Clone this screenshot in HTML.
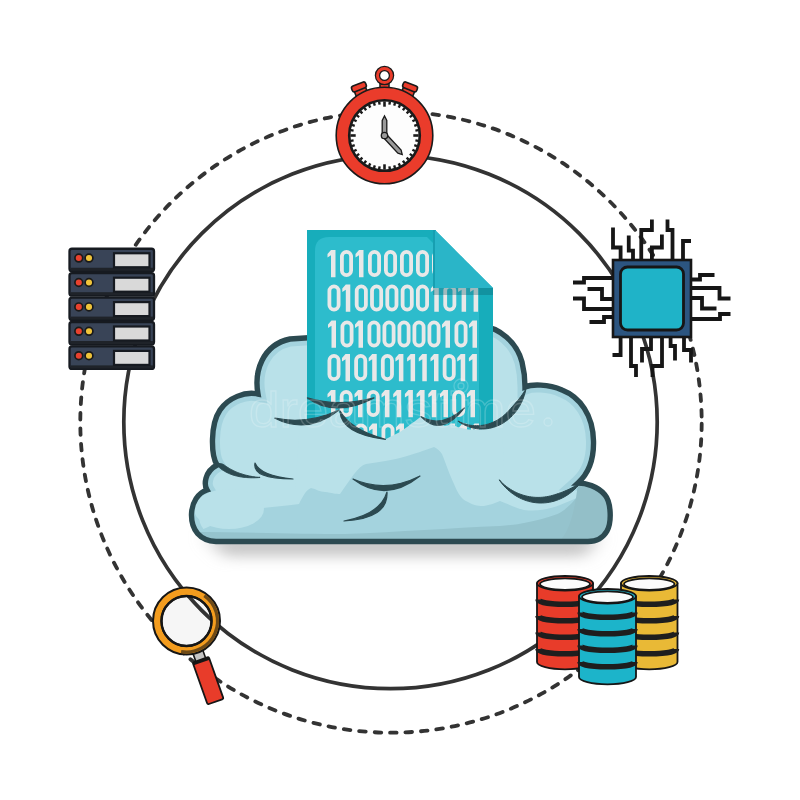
<!DOCTYPE html>
<html><head><meta charset="utf-8">
<style>
html,body{margin:0;padding:0;background:#fff;width:800px;height:800px;overflow:hidden}
svg{display:block}
text{font-family:"Liberation Sans",sans-serif;font-weight:bold}
</style></head><body>
<svg width="800" height="800" viewBox="0 0 800 800">
<defs>
  <filter id="blur6" x="-50%" y="-50%" width="200%" height="200%"><feGaussianBlur stdDeviation="6"/></filter>
  <clipPath id="docclip"><path d="M307 230 L435 230 L493 288 L493 470 L307 470 Z"/></clipPath>
</defs>
<rect width="800" height="800" fill="#fff"/>
<circle cx="390.5" cy="422" r="266.7" fill="none" stroke="#333" stroke-width="3.7"/>
<circle cx="391" cy="422" r="310.7" fill="none" stroke="#333" stroke-width="3.8" stroke-linecap="round" stroke-dasharray="6.6 8.9" stroke-dashoffset="-1.7"/>
<filter id="shb" x="-20%" y="-100%" width="140%" height="300%"><feGaussianBlur stdDeviation="9 7"/></filter>
<path d="M205 536 L600 536 L585 556 L225 556 Z" fill="#c4c4c4" filter="url(#shb)"/>
<clipPath id="silclip"><path d="M216 541.5 C200 541 191 530 191.5 514 C192 502 198 493 207 490 C204 485 204 472 217 465 C211 455 210 425 220 410 C228 398 245 391 258 394 C254 372 262 345 290 339 L320 337 L480 326 C500 327 517 343 522 362 C524 370 525 378 525 387 C532 384 548 384 562 390 C580 397 593 415 593.5 441 C594 460 588 474 578 483 C585 483 598 486 605 495 C611 502 612 522 607 531 C603 538 597 541.5 588 541.5 Z"/></clipPath>
<path d="M216 541.5 C200 541 191 530 191.5 514 C192 502 198 493 207 490 C204 485 204 472 217 465 C211 455 210 425 220 410 C228 398 245 391 258 394 C254 372 262 345 290 339 L320 337 L480 326 C500 327 517 343 522 362 C524 370 525 378 525 387 C532 384 548 384 562 390 C580 397 593 415 593.5 441 C594 460 588 474 578 483 C585 483 598 486 605 495 C611 502 612 522 607 531 C603 538 597 541.5 588 541.5 Z" fill="#b9e1e9"/>
<path d="M216 541.5 C200 541 191 530 191.5 514 C192 502 198 493 207 490 C204 485 204 472 217 465 C211 455 210 425 220 410 C228 398 245 391 258 394 C254 372 262 345 290 339 L320 337 L480 326 C500 327 517 343 522 362 C524 370 525 378 525 387 C532 384 548 384 562 390 C580 397 593 415 593.5 441 C594 460 588 474 578 483 C585 483 598 486 605 495 C611 502 612 522 607 531 C603 538 597 541.5 588 541.5 Z" fill="none" stroke="#a4d3de" stroke-width="15" clip-path="url(#silclip)"/>
<path d="M307 230 L435 230 L493 288 L493 470 L307 470 Z" fill="#17adbb"/>
<path d="M329 237 L427 237 L479 289 L479 470 L315 470 L315 251 Q315 237 329 237 Z" fill="#2dbccc"/>
<g clip-path="url(#docclip)">
<path d="M346.50 251.90 a4.6 4.6 0 0 1 4.6 4.6 v14 a4.6 4.6 0 0 1 -9.2 0 v-14 a4.6 4.6 0 0 1 4.6 -4.6 Z M374.50 251.90 a4.6 4.6 0 0 1 4.6 4.6 v14 a4.6 4.6 0 0 1 -9.2 0 v-14 a4.6 4.6 0 0 1 4.6 -4.6 Z M390.50 251.90 a4.6 4.6 0 0 1 4.6 4.6 v14 a4.6 4.6 0 0 1 -9.2 0 v-14 a4.6 4.6 0 0 1 4.6 -4.6 Z M406.50 251.90 a4.6 4.6 0 0 1 4.6 4.6 v14 a4.6 4.6 0 0 1 -9.2 0 v-14 a4.6 4.6 0 0 1 4.6 -4.6 Z M422.50 251.90 a4.6 4.6 0 0 1 4.6 4.6 v14 a4.6 4.6 0 0 1 -9.2 0 v-14 a4.6 4.6 0 0 1 4.6 -4.6 Z M438.50 251.90 a4.6 4.6 0 0 1 4.6 4.6 v14 a4.6 4.6 0 0 1 -9.2 0 v-14 a4.6 4.6 0 0 1 4.6 -4.6 Z M454.50 251.90 a4.6 4.6 0 0 1 4.6 4.6 v14 a4.6 4.6 0 0 1 -9.2 0 v-14 a4.6 4.6 0 0 1 4.6 -4.6 Z M470.50 251.90 a4.6 4.6 0 0 1 4.6 4.6 v14 a4.6 4.6 0 0 1 -9.2 0 v-14 a4.6 4.6 0 0 1 4.6 -4.6 Z M498.50 251.90 a4.6 4.6 0 0 1 4.6 4.6 v14 a4.6 4.6 0 0 1 -9.2 0 v-14 a4.6 4.6 0 0 1 4.6 -4.6 Z" fill="none" stroke="#e8e8e8" stroke-width="3.8"/>
<path d="M331.00 250.00 h4.5 v27.3 h-4.5 v-22 l-3.5 2.2 v-3.6 Z M359.00 250.00 h4.5 v27.3 h-4.5 v-22 l-3.5 2.2 v-3.6 Z M483.00 250.00 h4.5 v27.3 h-4.5 v-22 l-3.5 2.2 v-3.6 Z M511.00 250.00 h4.5 v27.3 h-4.5 v-22 l-3.5 2.2 v-3.6 Z" fill="#e8e8e8"/>
<path d="M334.00 286.40 a4.6 4.6 0 0 1 4.6 4.6 v14 a4.6 4.6 0 0 1 -9.2 0 v-14 a4.6 4.6 0 0 1 4.6 -4.6 Z M361.30 286.40 a4.6 4.6 0 0 1 4.6 4.6 v14 a4.6 4.6 0 0 1 -9.2 0 v-14 a4.6 4.6 0 0 1 4.6 -4.6 Z M376.60 286.40 a4.6 4.6 0 0 1 4.6 4.6 v14 a4.6 4.6 0 0 1 -9.2 0 v-14 a4.6 4.6 0 0 1 4.6 -4.6 Z M391.90 286.40 a4.6 4.6 0 0 1 4.6 4.6 v14 a4.6 4.6 0 0 1 -9.2 0 v-14 a4.6 4.6 0 0 1 4.6 -4.6 Z M407.20 286.40 a4.6 4.6 0 0 1 4.6 4.6 v14 a4.6 4.6 0 0 1 -9.2 0 v-14 a4.6 4.6 0 0 1 4.6 -4.6 Z M422.50 286.40 a4.6 4.6 0 0 1 4.6 4.6 v14 a4.6 4.6 0 0 1 -9.2 0 v-14 a4.6 4.6 0 0 1 4.6 -4.6 Z M449.80 286.40 a4.6 4.6 0 0 1 4.6 4.6 v14 a4.6 4.6 0 0 1 -9.2 0 v-14 a4.6 4.6 0 0 1 4.6 -4.6 Z" fill="none" stroke="#e8e8e8" stroke-width="3.8"/>
<path d="M345.80 284.50 h4.5 v27.3 h-4.5 v-22 l-3.5 2.2 v-3.6 Z M434.30 284.50 h4.5 v27.3 h-4.5 v-22 l-3.5 2.2 v-3.6 Z M461.60 284.50 h4.5 v27.3 h-4.5 v-22 l-3.5 2.2 v-3.6 Z M473.60 284.50 h4.5 v27.3 h-4.5 v-22 l-3.5 2.2 v-3.6 Z" fill="#e8e8e8"/>
<path d="M347.00 322.40 a4.6 4.6 0 0 1 4.6 4.6 v14 a4.6 4.6 0 0 1 -9.2 0 v-14 a4.6 4.6 0 0 1 4.6 -4.6 Z M374.00 322.40 a4.6 4.6 0 0 1 4.6 4.6 v14 a4.6 4.6 0 0 1 -9.2 0 v-14 a4.6 4.6 0 0 1 4.6 -4.6 Z M389.00 322.40 a4.6 4.6 0 0 1 4.6 4.6 v14 a4.6 4.6 0 0 1 -9.2 0 v-14 a4.6 4.6 0 0 1 4.6 -4.6 Z M404.00 322.40 a4.6 4.6 0 0 1 4.6 4.6 v14 a4.6 4.6 0 0 1 -9.2 0 v-14 a4.6 4.6 0 0 1 4.6 -4.6 Z M419.00 322.40 a4.6 4.6 0 0 1 4.6 4.6 v14 a4.6 4.6 0 0 1 -9.2 0 v-14 a4.6 4.6 0 0 1 4.6 -4.6 Z M434.00 322.40 a4.6 4.6 0 0 1 4.6 4.6 v14 a4.6 4.6 0 0 1 -9.2 0 v-14 a4.6 4.6 0 0 1 4.6 -4.6 Z M461.00 322.40 a4.6 4.6 0 0 1 4.6 4.6 v14 a4.6 4.6 0 0 1 -9.2 0 v-14 a4.6 4.6 0 0 1 4.6 -4.6 Z" fill="none" stroke="#e8e8e8" stroke-width="3.8"/>
<path d="M331.50 320.50 h4.5 v27.3 h-4.5 v-22 l-3.5 2.2 v-3.6 Z M358.50 320.50 h4.5 v27.3 h-4.5 v-22 l-3.5 2.2 v-3.6 Z M445.50 320.50 h4.5 v27.3 h-4.5 v-22 l-3.5 2.2 v-3.6 Z M472.50 320.50 h4.5 v27.3 h-4.5 v-22 l-3.5 2.2 v-3.6 Z" fill="#e8e8e8"/>
<path d="M334.00 355.90 a4.6 4.6 0 0 1 4.6 4.6 v14 a4.6 4.6 0 0 1 -9.2 0 v-14 a4.6 4.6 0 0 1 4.6 -4.6 Z M360.70 355.90 a4.6 4.6 0 0 1 4.6 4.6 v14 a4.6 4.6 0 0 1 -9.2 0 v-14 a4.6 4.6 0 0 1 4.6 -4.6 Z M387.40 355.90 a4.6 4.6 0 0 1 4.6 4.6 v14 a4.6 4.6 0 0 1 -9.2 0 v-14 a4.6 4.6 0 0 1 4.6 -4.6 Z M449.20 355.90 a4.6 4.6 0 0 1 4.6 4.6 v14 a4.6 4.6 0 0 1 -9.2 0 v-14 a4.6 4.6 0 0 1 4.6 -4.6 Z" fill="none" stroke="#e8e8e8" stroke-width="3.8"/>
<path d="M345.50 354.00 h4.5 v27.3 h-4.5 v-22 l-3.5 2.2 v-3.6 Z M372.20 354.00 h4.5 v27.3 h-4.5 v-22 l-3.5 2.2 v-3.6 Z M398.90 354.00 h4.5 v27.3 h-4.5 v-22 l-3.5 2.2 v-3.6 Z M410.60 354.00 h4.5 v27.3 h-4.5 v-22 l-3.5 2.2 v-3.6 Z M422.30 354.00 h4.5 v27.3 h-4.5 v-22 l-3.5 2.2 v-3.6 Z M434.00 354.00 h4.5 v27.3 h-4.5 v-22 l-3.5 2.2 v-3.6 Z M460.70 354.00 h4.5 v27.3 h-4.5 v-22 l-3.5 2.2 v-3.6 Z M472.40 354.00 h4.5 v27.3 h-4.5 v-22 l-3.5 2.2 v-3.6 Z" fill="#e8e8e8"/>
<path d="M346.20 391.90 a4.6 4.6 0 0 1 4.6 4.6 v14 a4.6 4.6 0 0 1 -9.2 0 v-14 a4.6 4.6 0 0 1 4.6 -4.6 Z M373.20 391.90 a4.6 4.6 0 0 1 4.6 4.6 v14 a4.6 4.6 0 0 1 -9.2 0 v-14 a4.6 4.6 0 0 1 4.6 -4.6 Z M458.70 391.90 a4.6 4.6 0 0 1 4.6 4.6 v14 a4.6 4.6 0 0 1 -9.2 0 v-14 a4.6 4.6 0 0 1 4.6 -4.6 Z" fill="none" stroke="#e8e8e8" stroke-width="3.8"/>
<path d="M331.00 390.00 h4.5 v27.3 h-4.5 v-22 l-3.5 2.2 v-3.6 Z M358.00 390.00 h4.5 v27.3 h-4.5 v-22 l-3.5 2.2 v-3.6 Z M385.00 390.00 h4.5 v27.3 h-4.5 v-22 l-3.5 2.2 v-3.6 Z M396.70 390.00 h4.5 v27.3 h-4.5 v-22 l-3.5 2.2 v-3.6 Z M408.40 390.00 h4.5 v27.3 h-4.5 v-22 l-3.5 2.2 v-3.6 Z M420.10 390.00 h4.5 v27.3 h-4.5 v-22 l-3.5 2.2 v-3.6 Z M431.80 390.00 h4.5 v27.3 h-4.5 v-22 l-3.5 2.2 v-3.6 Z M443.50 390.00 h4.5 v27.3 h-4.5 v-22 l-3.5 2.2 v-3.6 Z M470.50 390.00 h4.5 v27.3 h-4.5 v-22 l-3.5 2.2 v-3.6 Z" fill="#e8e8e8"/>
<path d="M334.00 425.40 a4.6 4.6 0 0 1 4.6 4.6 v14 a4.6 4.6 0 0 1 -9.2 0 v-14 a4.6 4.6 0 0 1 4.6 -4.6 Z M361.00 425.40 a4.6 4.6 0 0 1 4.6 4.6 v14 a4.6 4.6 0 0 1 -9.2 0 v-14 a4.6 4.6 0 0 1 4.6 -4.6 Z M388.00 425.40 a4.6 4.6 0 0 1 4.6 4.6 v14 a4.6 4.6 0 0 1 -9.2 0 v-14 a4.6 4.6 0 0 1 4.6 -4.6 Z M439.00 425.40 a4.6 4.6 0 0 1 4.6 4.6 v14 a4.6 4.6 0 0 1 -9.2 0 v-14 a4.6 4.6 0 0 1 4.6 -4.6 Z" fill="none" stroke="#e8e8e8" stroke-width="3.8"/>
<path d="M345.50 423.50 h4.5 v27.3 h-4.5 v-22 l-3.5 2.2 v-3.6 Z M372.50 423.50 h4.5 v27.3 h-4.5 v-22 l-3.5 2.2 v-3.6 Z M399.50 423.50 h4.5 v27.3 h-4.5 v-22 l-3.5 2.2 v-3.6 Z M411.50 423.50 h4.5 v27.3 h-4.5 v-22 l-3.5 2.2 v-3.6 Z M423.50 423.50 h4.5 v27.3 h-4.5 v-22 l-3.5 2.2 v-3.6 Z M450.50 423.50 h4.5 v27.3 h-4.5 v-22 l-3.5 2.2 v-3.6 Z M462.50 423.50 h4.5 v27.3 h-4.5 v-22 l-3.5 2.2 v-3.6 Z M474.50 423.50 h4.5 v27.3 h-4.5 v-22 l-3.5 2.2 v-3.6 Z" fill="#e8e8e8"/>
</g>
<path d="M433 230 L436 230 L436 288 L433 288 Z" fill="#179fb1"/>
<path d="M433 288 L493 288 L493 295 L433 295 Z" fill="#0a5a66" fill-opacity="0.32"/>
<path d="M435 230 L493 288 L435 288 Z" fill="#2ab5c8"/>
<path d="M300 422 Q316 422 338 410 Q350 436 385.4 439.3 Q392 436 400 432 Q412 424 421 416.6 Q441 430 451 424 Q474 436 502 423 L505 490 L295 490 Z" fill="#b9e1e9"/>
<g clip-path="url(#silclip)">
<path d="M180 560 L180 540 C200 530 240 512 263 508 C275 507 290 505 299 504 C303 496 306 490 311 488 C316 489 320 492 325 492 C332 493 336 494 340 494 C350 480 358 466 366 464 C380 462 392 460 400 458 C415 454 425 450 434 447 C438 449 440 451 442 454 C446 464 450 476 454 484 C458 494 462 500 468 502 C474 506 480 506 484 506 C490 505 495 503 500 501 C508 504 516 508 524 510 C540 512 552 508 560 505 L620 480 L620 560 Z" fill="#a4d3de"/>
<ellipse cx="229" cy="509" rx="35" ry="20" fill="#b9e1e9"/>
<path d="M180 532 C250 532 300 534 345 534 C400 532 450 528 500 526 C512 525 520 524 524 523 C535 521 547 518 557.5 514 C566 510 572 503 578 496 L620 480 L620 560 L180 560 Z" fill="#95c3cd"/>
<path d="M578 483 C585 483 598 486 605 495 C611 502 612 522 607 531 C603 537 597 540.5 588 540.5 L560 541 C570 530 575 510 578 483 Z" fill="#93bfc8"/>
</g>
<clipPath id="nodoc"><path clip-rule="evenodd" d="M0 0 H800 V800 H0 Z M307 200 V440 H493 V200 Z"/></clipPath>
<path d="M480 326 C500 327 517 343 522 362 C524 370 525 378 525 387 C532 384 548 384 562 390 C580 397 593 415 593.5 441 C594 460 588 474 578 483 C585 483 598 486 605 495 C611 502 612 522 607 531 C603 538 597 541.5 588 541.5 L216 541.5 C200 541 191 530 191.5 514 C192 502 198 493 207 490 C204 485 204 472 217 465 C211 455 210 425 220 410 C228 398 245 391 258 394 C254 372 262 345 290 339 L320 337" fill="none" stroke="#2c4a51" stroke-width="5.4" stroke-linejoin="miter" stroke-miterlimit="10" clip-path="url(#nodoc)"/>
<g fill="#2c4a51" stroke="#2c4a51" stroke-linejoin="round">
<path d="M215.00 463.00 L215.69 463.83 L216.40 464.63 L217.13 465.41 L217.88 466.16 L218.66 466.89 L219.45 467.60 L220.28 468.28 L221.12 468.94 L221.99 469.58 L222.88 470.19 L223.79 470.78 L224.72 471.34 L225.68 471.88 L226.66 472.40 L227.66 472.89 L228.68 473.36 L229.73 473.81 L230.80 474.23 L231.89 474.63 L233.00 475.00 L234.14 475.35 L235.29 475.68 L236.48 475.98 L237.68 476.26 L238.91 476.52 L240.15 476.75 L241.43 476.96 L242.72 477.14 L244.04 477.30 L245.38 477.44 L246.74 477.55 L248.12 477.64 L249.53 477.71 L250.95 477.75 L252.41 477.77 L253.88 477.76 L255.38 477.73 L256.90 477.68 L258.44 477.60 L260.00 477.50 L259.98 477.20 L258.42 477.30 L256.87 477.19 L255.36 477.00 L253.87 476.78 L252.41 476.55 L250.99 476.30 L249.59 476.02 L248.23 475.73 L246.89 475.42 L245.59 475.09 L244.32 474.75 L243.08 474.39 L241.88 474.01 L240.70 473.62 L239.56 473.22 L238.44 472.81 L237.36 472.38 L236.30 471.95 L235.27 471.50 L234.28 471.04 L233.30 470.58 L232.36 470.10 L231.44 469.62 L230.55 469.13 L229.68 468.64 L228.83 468.14 L228.00 467.62 L227.20 467.11 L226.41 466.58 L225.64 466.05 L224.88 465.51 L224.14 464.95 L223.35 464.46 L222.46 464.09 L221.46 463.82 L220.34 463.62 L219.12 463.47 L217.81 463.34 L216.43 463.19 L215.23 462.81 Z" stroke-width="1.0"/>
<path d="M255 463 Q252.00 479.00 293 479 Q260.46 475.92 255 463 Z" stroke-width="1.2"/>
<path d="M307.4 397.9 Q335.30 418.10 374 397.9 Q338.14 407.47 307.4 397.9 Z" stroke-width="1.2"/>
<path d="M274.9 418.2 Q307.85 434.90 339 410 Q307.42 424.91 274.9 418.2 Z" stroke-width="1.2"/>
<path d="M339.9 410.9 Q341.35 433.90 385.4 439.3 Q350.59 430.08 339.9 410.9 Z" stroke-width="1.2"/>
<path d="M421 416.6 Q441.30 437.70 464.4 408 Q441.80 428.71 421 416.6 Z" stroke-width="1.2"/>
<path d="M526.02 388.60 L525.52 390.98 L524.92 393.34 L524.22 395.65 L523.42 397.93 L522.53 400.16 L521.55 402.34 L520.47 404.46 L519.31 406.52 L518.06 408.51 L516.72 410.44 L515.31 412.29 L513.82 414.06 L512.26 415.75 L510.62 417.35 L508.92 418.86 L507.16 420.28 L505.34 421.60 L503.47 422.82 L501.55 423.94 L499.58 424.95 L497.58 425.85 L495.53 426.64 L493.46 427.32 L491.36 427.89 L489.23 428.34 L487.09 428.67 L484.94 428.89 L482.79 428.99 L480.63 428.98 L478.47 428.84 L476.32 428.59 L474.19 428.23 L472.07 427.74 L469.97 427.15 L467.91 426.43 L465.87 425.61 L463.88 424.68 L461.92 423.64 L460.01 422.50 L458.15 421.25 L458.31 421.00 L460.18 422.20 L462.22 423.04 L464.28 423.76 L466.35 424.37 L468.43 424.86 L470.50 425.24 L472.58 425.50 L474.64 425.66 L476.69 425.71 L478.72 425.66 L480.73 425.51 L482.72 425.25 L484.68 424.90 L486.61 424.46 L488.51 423.92 L490.38 423.30 L492.21 422.59 L494.00 421.79 L495.76 420.92 L497.47 419.97 L499.14 418.94 L500.77 417.84 L502.35 416.67 L503.89 415.43 L505.39 414.12 L506.83 412.75 L508.23 411.32 L509.58 409.82 L510.91 408.29 L512.25 406.75 L513.61 405.20 L515.00 403.61 L516.40 401.99 L517.82 400.31 L519.24 398.57 L520.66 396.76 L522.06 394.86 L523.44 392.87 L524.76 390.79 L525.72 388.54 Z" stroke-width="1.0"/>
<path d="M581.60 481.57 L580.04 483.57 L578.41 485.50 L576.70 487.34 L574.93 489.10 L573.08 490.76 L571.17 492.33 L569.20 493.80 L567.18 495.17 L565.10 496.44 L562.98 497.60 L560.81 498.65 L558.60 499.59 L556.36 500.42 L554.09 501.14 L551.79 501.74 L549.47 502.23 L547.14 502.60 L544.79 502.85 L542.43 502.98 L540.08 502.99 L537.72 502.88 L535.37 502.66 L533.03 502.32 L530.71 501.86 L528.40 501.28 L526.12 500.59 L523.88 499.78 L521.66 498.86 L519.49 497.83 L517.35 496.70 L515.26 495.45 L513.23 494.10 L511.25 492.65 L509.33 491.11 L507.47 489.46 L505.67 487.73 L503.95 485.90 L502.30 484.00 L500.73 482.01 L499.24 479.94 L499.47 479.75 L501.00 481.77 L502.83 483.50 L504.71 485.13 L506.63 486.66 L508.60 488.08 L510.60 489.40 L512.63 490.62 L514.69 491.73 L516.77 492.74 L518.87 493.65 L520.99 494.45 L523.11 495.16 L525.25 495.77 L527.39 496.28 L529.53 496.69 L531.66 497.01 L533.80 497.24 L535.93 497.38 L538.06 497.42 L540.17 497.38 L542.28 497.25 L544.37 497.04 L546.45 496.73 L548.52 496.35 L550.57 495.88 L552.61 495.33 L554.63 494.72 L556.66 494.08 L558.69 493.40 L560.74 492.68 L562.79 491.91 L564.86 491.09 L566.95 490.21 L569.04 489.25 L571.15 488.22 L573.26 487.10 L575.37 485.88 L577.47 484.55 L579.55 483.12 L581.37 481.37 Z" stroke-width="1.0"/>
<path d="M353 479 Q385.50 503.50 420 476 Q385.88 493.51 353 479 Z" stroke-width="1.2"/>
<path d="M387 492 Q388.50 518.50 344 521 Q380.52 514.34 387 492 Z" stroke-width="1.2"/>
</g>
<rect x="69.5" y="248.75" width="84.5" height="22.5" rx="2.5" fill="#394457" stroke="#161a20" stroke-width="2.3"/>
<rect x="70.5" y="267.75" width="82.5" height="3" fill="#1f2329"/>
<circle cx="78.8" cy="258.05" r="3.9" fill="#e8412e" stroke="#1a1a1a" stroke-width="1.7"/>
<circle cx="89" cy="258.05" r="3.9" fill="#f0c43a" stroke="#1a1a1a" stroke-width="1.7"/>
<rect x="114" y="253.25" width="35.5" height="14" fill="#d9d9d9" stroke="#161a20" stroke-width="2.2"/>
<rect x="69.5" y="273.20" width="84.5" height="22.5" rx="2.5" fill="#394457" stroke="#161a20" stroke-width="2.3"/>
<rect x="70.5" y="292.20" width="82.5" height="3" fill="#1f2329"/>
<circle cx="78.8" cy="282.50" r="3.9" fill="#e8412e" stroke="#1a1a1a" stroke-width="1.7"/>
<circle cx="89" cy="282.50" r="3.9" fill="#f0c43a" stroke="#1a1a1a" stroke-width="1.7"/>
<rect x="114" y="277.70" width="35.5" height="14" fill="#d9d9d9" stroke="#161a20" stroke-width="2.2"/>
<rect x="69.5" y="297.60" width="84.5" height="22.5" rx="2.5" fill="#394457" stroke="#161a20" stroke-width="2.3"/>
<rect x="70.5" y="316.60" width="82.5" height="3" fill="#1f2329"/>
<circle cx="78.8" cy="306.90" r="3.9" fill="#e8412e" stroke="#1a1a1a" stroke-width="1.7"/>
<circle cx="89" cy="306.90" r="3.9" fill="#f0c43a" stroke="#1a1a1a" stroke-width="1.7"/>
<rect x="114" y="302.10" width="35.5" height="14" fill="#d9d9d9" stroke="#161a20" stroke-width="2.2"/>
<rect x="69.5" y="322.00" width="84.5" height="22.5" rx="2.5" fill="#394457" stroke="#161a20" stroke-width="2.3"/>
<rect x="70.5" y="341.00" width="82.5" height="3" fill="#1f2329"/>
<circle cx="78.8" cy="331.30" r="3.9" fill="#e8412e" stroke="#1a1a1a" stroke-width="1.7"/>
<circle cx="89" cy="331.30" r="3.9" fill="#f0c43a" stroke="#1a1a1a" stroke-width="1.7"/>
<rect x="114" y="326.50" width="35.5" height="14" fill="#d9d9d9" stroke="#161a20" stroke-width="2.2"/>
<rect x="69.5" y="346.40" width="84.5" height="22.5" rx="2.5" fill="#394457" stroke="#161a20" stroke-width="2.3"/>
<rect x="70.5" y="365.40" width="82.5" height="3" fill="#1f2329"/>
<circle cx="78.8" cy="355.70" r="3.9" fill="#e8412e" stroke="#1a1a1a" stroke-width="1.7"/>
<circle cx="89" cy="355.70" r="3.9" fill="#f0c43a" stroke="#1a1a1a" stroke-width="1.7"/>
<rect x="114" y="350.90" width="35.5" height="14" fill="#d9d9d9" stroke="#161a20" stroke-width="2.2"/>
<g transform="translate(361 92) rotate(-22)"><rect x="-6" y="-3" width="12" height="9" fill="#ea3c2b" stroke="#1a1a1a" stroke-width="1.6"/><rect x="-7.5" y="-8.5" width="15" height="6" rx="2.2" fill="#ea3c2b" stroke="#1a1a1a" stroke-width="1.6"/></g>
<g transform="translate(408 92) rotate(22)"><rect x="-6" y="-3" width="12" height="9" fill="#ea3c2b" stroke="#1a1a1a" stroke-width="1.6"/><rect x="-7.5" y="-8.5" width="15" height="6" rx="2.2" fill="#ea3c2b" stroke="#1a1a1a" stroke-width="1.6"/></g>
<rect x="380" y="81" width="9" height="9" fill="#ea3c2b" stroke="#1a1a1a" stroke-width="1.5"/>
<circle cx="384.5" cy="75.5" r="7" fill="none" stroke="#1a1a1a" stroke-width="5.5"/>
<circle cx="384.5" cy="75.5" r="7" fill="none" stroke="#ea3c2b" stroke-width="3"/>
<circle cx="384.5" cy="135.5" r="48.3" fill="#ea3c2b" stroke="#1a1a1a" stroke-width="1.6"/>
<circle cx="384.5" cy="135.5" r="35.3" fill="#fdfdfd" stroke="#1a1a1a" stroke-width="2.6"/>
<line x1="384.50" y1="101.30" x2="384.50" y2="106.70" stroke="#1a1a1a" stroke-width="2.6"/>
<line x1="389.85" y1="101.72" x2="389.40" y2="104.59" stroke="#1a1a1a" stroke-width="2.4"/>
<line x1="395.07" y1="102.97" x2="394.17" y2="105.73" stroke="#1a1a1a" stroke-width="2.4"/>
<line x1="400.03" y1="105.03" x2="398.71" y2="107.61" stroke="#1a1a1a" stroke-width="2.4"/>
<line x1="404.60" y1="107.83" x2="402.90" y2="110.18" stroke="#1a1a1a" stroke-width="2.4"/>
<line x1="408.68" y1="111.32" x2="406.63" y2="113.37" stroke="#1a1a1a" stroke-width="2.4"/>
<line x1="412.17" y1="115.40" x2="409.82" y2="117.10" stroke="#1a1a1a" stroke-width="2.4"/>
<line x1="414.97" y1="119.97" x2="412.39" y2="121.29" stroke="#1a1a1a" stroke-width="2.4"/>
<line x1="417.03" y1="124.93" x2="414.27" y2="125.83" stroke="#1a1a1a" stroke-width="2.4"/>
<line x1="418.28" y1="130.15" x2="415.41" y2="130.60" stroke="#1a1a1a" stroke-width="2.4"/>
<line x1="418.70" y1="135.50" x2="413.30" y2="135.50" stroke="#1a1a1a" stroke-width="2.6"/>
<line x1="418.28" y1="140.85" x2="415.41" y2="140.40" stroke="#1a1a1a" stroke-width="2.4"/>
<line x1="417.03" y1="146.07" x2="414.27" y2="145.17" stroke="#1a1a1a" stroke-width="2.4"/>
<line x1="414.97" y1="151.03" x2="412.39" y2="149.71" stroke="#1a1a1a" stroke-width="2.4"/>
<line x1="412.17" y1="155.60" x2="409.82" y2="153.90" stroke="#1a1a1a" stroke-width="2.4"/>
<line x1="408.68" y1="159.68" x2="406.63" y2="157.63" stroke="#1a1a1a" stroke-width="2.4"/>
<line x1="404.60" y1="163.17" x2="402.90" y2="160.82" stroke="#1a1a1a" stroke-width="2.4"/>
<line x1="400.03" y1="165.97" x2="398.71" y2="163.39" stroke="#1a1a1a" stroke-width="2.4"/>
<line x1="395.07" y1="168.03" x2="394.17" y2="165.27" stroke="#1a1a1a" stroke-width="2.4"/>
<line x1="389.85" y1="169.28" x2="389.40" y2="166.41" stroke="#1a1a1a" stroke-width="2.4"/>
<line x1="384.50" y1="169.70" x2="384.50" y2="164.30" stroke="#1a1a1a" stroke-width="2.6"/>
<line x1="379.15" y1="169.28" x2="379.60" y2="166.41" stroke="#1a1a1a" stroke-width="2.4"/>
<line x1="373.93" y1="168.03" x2="374.83" y2="165.27" stroke="#1a1a1a" stroke-width="2.4"/>
<line x1="368.97" y1="165.97" x2="370.29" y2="163.39" stroke="#1a1a1a" stroke-width="2.4"/>
<line x1="364.40" y1="163.17" x2="366.10" y2="160.82" stroke="#1a1a1a" stroke-width="2.4"/>
<line x1="360.32" y1="159.68" x2="362.37" y2="157.63" stroke="#1a1a1a" stroke-width="2.4"/>
<line x1="356.83" y1="155.60" x2="359.18" y2="153.90" stroke="#1a1a1a" stroke-width="2.4"/>
<line x1="354.03" y1="151.03" x2="356.61" y2="149.71" stroke="#1a1a1a" stroke-width="2.4"/>
<line x1="351.97" y1="146.07" x2="354.73" y2="145.17" stroke="#1a1a1a" stroke-width="2.4"/>
<line x1="350.72" y1="140.85" x2="353.59" y2="140.40" stroke="#1a1a1a" stroke-width="2.4"/>
<line x1="350.30" y1="135.50" x2="355.70" y2="135.50" stroke="#1a1a1a" stroke-width="2.6"/>
<line x1="350.72" y1="130.15" x2="353.59" y2="130.60" stroke="#1a1a1a" stroke-width="2.4"/>
<line x1="351.97" y1="124.93" x2="354.73" y2="125.83" stroke="#1a1a1a" stroke-width="2.4"/>
<line x1="354.03" y1="119.97" x2="356.61" y2="121.29" stroke="#1a1a1a" stroke-width="2.4"/>
<line x1="356.83" y1="115.40" x2="359.18" y2="117.10" stroke="#1a1a1a" stroke-width="2.4"/>
<line x1="360.32" y1="111.32" x2="362.37" y2="113.37" stroke="#1a1a1a" stroke-width="2.4"/>
<line x1="364.40" y1="107.83" x2="366.10" y2="110.18" stroke="#1a1a1a" stroke-width="2.4"/>
<line x1="368.97" y1="105.03" x2="370.29" y2="107.61" stroke="#1a1a1a" stroke-width="2.4"/>
<line x1="373.93" y1="102.97" x2="374.83" y2="105.73" stroke="#1a1a1a" stroke-width="2.4"/>
<line x1="379.15" y1="101.72" x2="379.60" y2="104.59" stroke="#1a1a1a" stroke-width="2.4"/>
<path d="M382.2 135.5 L382.2 120.5 L384.5 116.0 L386.8 120.5 L386.8 135.5 Z" fill="#9a9a9a" stroke="#1a1a1a" stroke-width="1.3"/>
<g transform="translate(384.5 135.5) rotate(-43)"><path d="M-2.2 0 L-2.2 22 L0 26 L2.2 22 L2.2 0 Z" fill="#9a9a9a" stroke="#1a1a1a" stroke-width="1.3"/></g>
<circle cx="384.5" cy="135.5" r="3.2" fill="#9a9a9a" stroke="#1a1a1a" stroke-width="1.3"/>
<g fill="none" stroke="#161616" stroke-width="3.8" stroke-linecap="butt" stroke-linejoin="miter">
<path d="M613 227.5 L613 247.5 L620.6 247.5 L620.6 260"/>
<path d="M628.75 235.6 L628.75 250.6 L633 250.6 L633 260"/>
<path d="M651.9 219.4 L651.9 230 L641.25 230 L641.25 260"/>
<path d="M661.9 234.4 L661.9 247.5 L651.9 247.5 L651.9 260"/>
<path d="M667.5 219.4 L667.5 230 L672.5 230 L672.5 260"/>
<path d="M691 241 L683 241 L683 260"/>
<path d="M573 282.5 L584 282.5 L584 278 L613 278"/>
<path d="M587.5 289 L602 289 L602 299 L613 299"/>
<path d="M573 298.5 L584 298.5 L584 309 L613 309"/>
<path d="M589.5 322 L604 322 L604 317 L613 317"/>
<path d="M691 279.5 L700 279.5 L700 275 L714.5 275"/>
<path d="M691 288 L719.5 288 L719.5 298.5 L730.5 298.5"/>
<path d="M691 298 L702 298 L702 308.5 L716.5 308.5"/>
<path d="M691 319 L720 319 L720 314 L730.5 314"/>
<path d="M620.6 337 L620.6 355 L612.5 355"/>
<path d="M631 337 L631 366 L636 366 L636 377"/>
<path d="M651 337 L651 349 L642 349 L642 362.5"/>
<path d="M662 337 L662 366 L652.5 366 L652.5 377"/>
<path d="M670.6 337 L670.6 346 L675 346 L675 360.6"/>
<path d="M684 337 L684 350 L691 350 L691 362.5"/>
</g>
<rect x="613" y="260" width="78" height="77" fill="#2c5580" stroke="#161616" stroke-width="2.6"/>
<rect x="620.5" y="267" width="63" height="63" rx="7" fill="#1fb3c8" stroke="#161616" stroke-width="2.8"/>
<path d="M537 583.3 L537 662 A28.0 7.3 0 0 0 593 662 L593 583.3 Z" fill="#e83c2a" stroke="#161616" stroke-width="1.8"/>
<path d="M538 599.50 A27.0 4.8 0 0 0 592 599.50" fill="none" stroke="#1e1e1e" stroke-width="5.5"/>
<path d="M538 616.00 A27.0 4.8 0 0 0 592 616.00" fill="none" stroke="#1e1e1e" stroke-width="5.5"/>
<path d="M538 632.50 A27.0 4.8 0 0 0 592 632.50" fill="none" stroke="#1e1e1e" stroke-width="5.5"/>
<path d="M538 649.00 A27.0 4.8 0 0 0 592 649.00" fill="none" stroke="#1e1e1e" stroke-width="5.5"/>
<ellipse cx="565.0" cy="583.3" rx="28.0" ry="7.3" fill="#e83c2a" stroke="#161616" stroke-width="1.8"/>
<ellipse cx="565.0" cy="584.0999999999999" rx="25.0" ry="5.699999999999999" fill="#fbfbfb" stroke="#161616" stroke-width="1.8"/>
<path d="M621 583.3 L621 662 A28.25 7.3 0 0 0 677.5 662 L677.5 583.3 Z" fill="#e9b936" stroke="#161616" stroke-width="1.8"/>
<path d="M622 599.50 A27.25 4.8 0 0 0 676.5 599.50" fill="none" stroke="#1e1e1e" stroke-width="5.5"/>
<path d="M622 616.00 A27.25 4.8 0 0 0 676.5 616.00" fill="none" stroke="#1e1e1e" stroke-width="5.5"/>
<path d="M622 632.50 A27.25 4.8 0 0 0 676.5 632.50" fill="none" stroke="#1e1e1e" stroke-width="5.5"/>
<path d="M622 649.00 A27.25 4.8 0 0 0 676.5 649.00" fill="none" stroke="#1e1e1e" stroke-width="5.5"/>
<ellipse cx="649.25" cy="583.3" rx="28.25" ry="7.3" fill="#e9b936" stroke="#161616" stroke-width="1.8"/>
<ellipse cx="649.25" cy="584.0999999999999" rx="25.25" ry="5.699999999999999" fill="#fbfbfb" stroke="#161616" stroke-width="1.8"/>
<path d="M579 596.3 L579 677 A28.5 7.3 0 0 0 636 677 L636 596.3 Z" fill="#1cb4ca" stroke="#161616" stroke-width="1.8"/>
<path d="M580 612.50 A27.5 4.8 0 0 0 635 612.50" fill="none" stroke="#1e1e1e" stroke-width="5.5"/>
<path d="M580 629.00 A27.5 4.8 0 0 0 635 629.00" fill="none" stroke="#1e1e1e" stroke-width="5.5"/>
<path d="M580 645.50 A27.5 4.8 0 0 0 635 645.50" fill="none" stroke="#1e1e1e" stroke-width="5.5"/>
<path d="M580 662.00 A27.5 4.8 0 0 0 635 662.00" fill="none" stroke="#1e1e1e" stroke-width="5.5"/>
<ellipse cx="607.5" cy="596.3" rx="28.5" ry="7.3" fill="#1cb4ca" stroke="#161616" stroke-width="1.8"/>
<ellipse cx="607.5" cy="597.0999999999999" rx="25.5" ry="5.699999999999999" fill="#fbfbfb" stroke="#161616" stroke-width="1.8"/>
<g transform="translate(200.7 659.7) rotate(-19.5)">
<rect x="-5.2" y="-9" width="10.4" height="10" fill="#c4c4c4" stroke="#161616" stroke-width="1.6"/>
<rect x="-8.5" y="0" width="17" height="44.5" rx="1.5" fill="#e83c2a" stroke="#161616" stroke-width="1.8"/>
<rect x="-8.5" y="0" width="17" height="3" fill="#161616"/>
</g>
<circle cx="186.5" cy="621" r="25" fill="#f4f4f4" fill-opacity="0.8"/>
<clipPath id="lensclip"><circle cx="186.5" cy="621" r="25"/></clipPath>
<circle cx="390.5" cy="422" r="266.7" fill="none" stroke="#333" stroke-width="3.7" clip-path="url(#lensclip)"/>
<circle cx="186.5" cy="621" r="29.3" fill="none" stroke="#161616" stroke-width="10.4"/>
<circle cx="186.5" cy="621" r="29.3" fill="none" stroke="#f39c1e" stroke-width="6.4"/>
<path d="M204.28 595.61 A31 31 0 0 1 181.12 651.53" fill="none" stroke="#6e4a17" stroke-width="3.2"/>
<circle cx="186.5" cy="621" r="25" fill="none" stroke="#161616" stroke-width="2.4"/>
<g fill="none" stroke="#ffffff" stroke-opacity="0.2" stroke-width="1.3"><text x="249" y="427" font-size="50" font-weight="normal" textLength="287" lengthAdjust="spacingAndGlyphs" style="font-weight:normal">dreamstime</text><circle cx="548" cy="422" r="4"/><circle cx="461" cy="386" r="7"/><circle cx="461" cy="386" r="3"/></g>
</svg></body></html>
